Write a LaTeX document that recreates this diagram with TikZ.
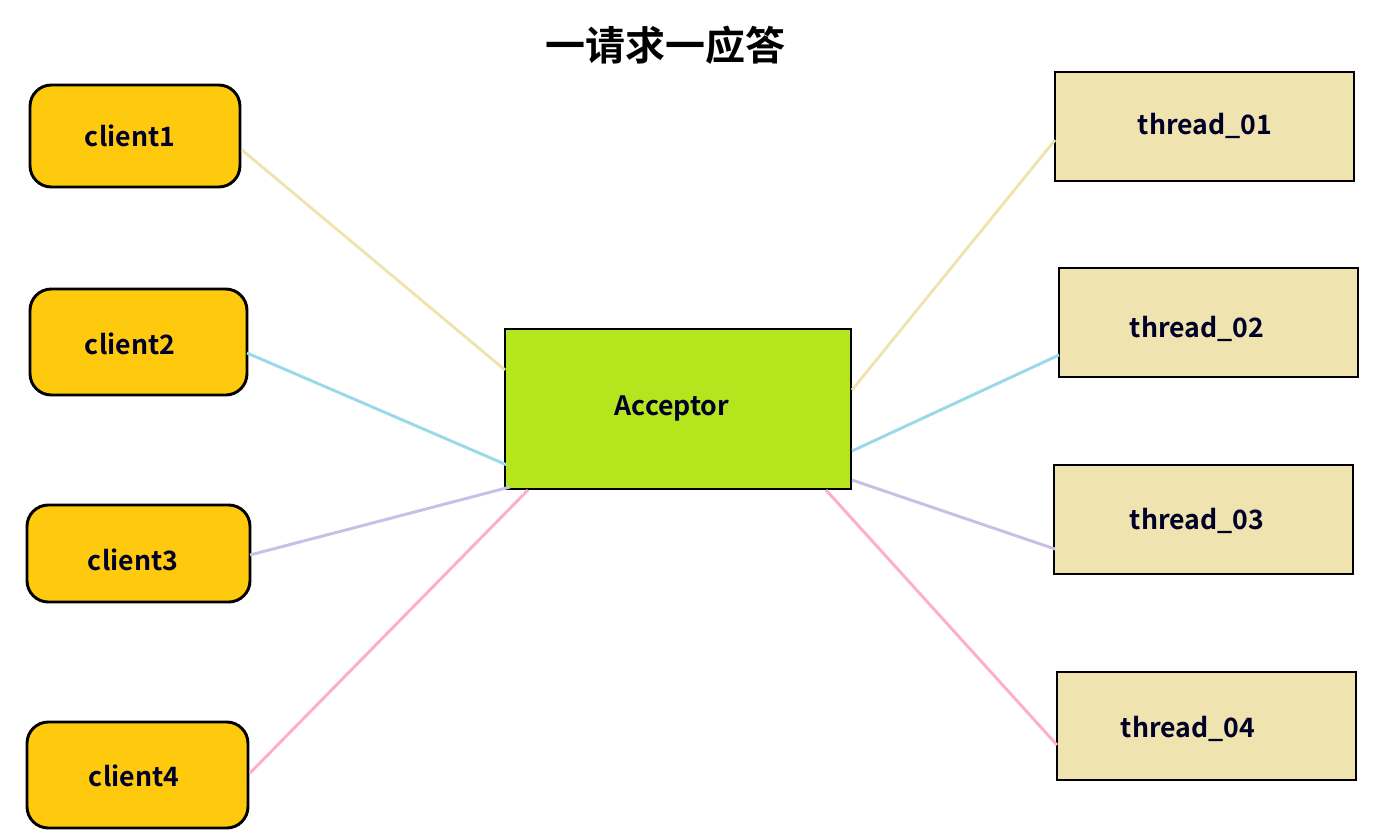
\documentclass[tikz,border=0pt]{standalone}
\usepackage{fontspec}
\setmainfont{Noto Sans CJK SC}[BoldFont={* Bold}]
\begin{document}
\begin{tikzpicture}[x=0.75pt,y=-0.75pt,
  lbl/.style={font=\bfseries\fontsize{20}{24}\selectfont,text=black!85!blue},
  cli/.style={draw,line width=2.2pt,fill=cliY,rounded corners=16pt,lbl},
  thr/.style={draw,line width=2.2pt,fill=thrY,lbl},
  ln/.style={line width=2.2pt}]
\definecolor{cliY}{HTML}{FFC90E}
\definecolor{thrY}{HTML}{EFE4B0}
\definecolor{accG}{HTML}{B5E61D}
\definecolor{lY}{HTML}{EFE4B0}
\definecolor{lB}{HTML}{99D9EA}
\definecolor{lV}{HTML}{C8BFE7}
\definecolor{lP}{HTML}{FFAEC9}
\useasboundingbox (0,0) rectangle (1381,836);
\node[font=\bfseries\fontsize{30}{36}\selectfont] (title) at (665,45) {一请求一应答};
\draw[cli] (30,85) rectangle (240,187); \node[lbl] (c1) at (130,136) {client1};
\draw[cli] (30,289) rectangle (247,395); \node[lbl] (c2) at (130,344) {client2};
\draw[cli] (27,505) rectangle (250,602); \node[lbl] (c3) at (133,560) {client3};
\draw[cli] (27,722) rectangle (248,828); \node[lbl] (c4) at (134,776) {client4};
\draw[thr] (505,329) rectangle (851,489);
\fill[accG] (506,330) rectangle (850,488);
\draw[line width=2.2pt] (505,329) rectangle (851,489);
\node[lbl] (acc) at (672,408) {Acceptor};
\draw[thr] (1055,72) rectangle (1354,181); \node[lbl] (t1) at (1205,126) {thread\_01};
\draw[thr] (1059,268) rectangle (1358,377); \node[lbl] (t2) at (1197,329) {thread\_02};
\draw[thr] (1054,465) rectangle (1353,574); \node[lbl] (t3) at (1197,521) {thread\_03};
\draw[thr] (1057,672) rectangle (1356,780); \node[lbl] (t4) at (1188,729) {thread\_04};
\coordinate (c1e) at (242,150); \coordinate (a1) at (505,370);
\coordinate (c2e) at (247,353); \coordinate (a2) at (507,465);
\coordinate (c3e) at (250,555); \coordinate (a3) at (510,487);
\coordinate (c4e) at (250,773); \coordinate (a4) at (528,490);
\coordinate (b1) at (852,390); \coordinate (t1w) at (1055,140);
\coordinate (b2) at (852,451); \coordinate (t2w) at (1059,355);
\coordinate (b3) at (852,480); \coordinate (t3w) at (1055,549);
\coordinate (b4) at (826,490); \coordinate (t4w) at (1057,745);
\draw[ln,lY] (c1e) -- (a1); \draw[ln,lB] (c2e) -- (a2);
\draw[ln,lV] (c3e) -- (a3); \draw[ln,lP] (c4e) -- (a4);
\draw[ln,lY] (b1) -- (t1w); \draw[ln,lB] (b2) -- (t2w);
\draw[ln,lV] (b3) -- (t3w); \draw[ln,lP] (b4) -- (t4w);
\end{tikzpicture}
\end{document}
